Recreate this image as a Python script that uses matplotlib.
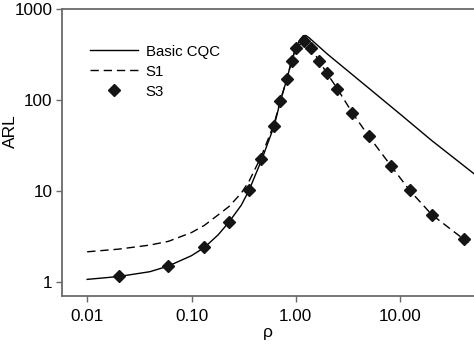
import matplotlib

matplotlib.use("Agg")
import matplotlib.pyplot as plt
from matplotlib.ticker import FixedLocator, NullLocator

plt.rcParams["font.family"] = ["Liberation Sans", "DejaVu Sans"]

# values
basic_rho = [0.01, 0.02, 0.04, 0.06, 0.1, 0.133, 0.18, 0.23, 0.3, 0.356, 0.47,
             0.62, 0.71, 0.82, 0.91, 1.0, 1.1, 1.18, 1.25, 1.35, 2.0, 5.0,
             10.0, 20.0, 51.0]
basic_arl = [1.07, 1.15, 1.3, 1.5, 1.95, 2.4, 3.3, 4.6, 7.0, 10.2, 22.0,
             52.0, 97.0, 170.0, 268.0, 373.0, 465.0, 510.0, 512.0, 480.0, 321.0,
             135.0, 70.0, 36.0, 15.5]

s1_rho = [0.01, 0.02, 0.04, 0.06, 0.1, 0.133, 0.2, 0.23, 0.3, 0.356, 0.47,
          0.62, 0.71, 0.82, 0.91, 1.0, 1.19, 1.4, 1.67, 1.97, 2.5, 3.47, 5.0,
          8.2, 12.3, 20.1, 40.9, 45.0]
s1_arl = [2.15, 2.3, 2.55, 2.8, 3.5, 4.2, 6.0, 6.8, 9.5, 12.8, 24.5,
          55.0, 98.0, 170.0, 268.0, 373.0, 442.0, 373.0, 268.0, 200.0, 133.0,
          72.7, 40.0, 18.8, 10.2, 5.5, 2.94, 2.7]

s3_rho = [0.02, 0.06, 0.133, 0.23, 0.356, 0.468, 0.618, 0.708, 0.82, 0.91,
          1.0, 1.19, 1.4, 1.67, 1.97, 2.5, 3.47, 5.0, 8.2, 12.3, 20.1, 40.9]
s3_arl = [1.16, 1.52, 2.4, 4.6, 10.2, 22.3, 52.3, 96.8, 170.0, 268.0,
          373.0, 442.0, 373.0, 268.0, 200.0, 133.0, 72.7, 39.9, 18.8, 10.2,
          5.5, 2.94]

x_ticks = [0.01, 0.1, 1.0, 10.0]
x_labels = ["0.01", "0.10", "1.00", "10.00"]
y_ticks = [1, 10, 100, 1000]
y_labels = ["1", "10", "100", "1000"]

fig = plt.figure(figsize=(4.74, 3.48), dpi=100)
ax = fig.add_axes([0.131, 0.149, 0.869, 0.825])

ax.plot(basic_rho, basic_arl, "-", color="black", lw=1.0, label="Basic CQC")
ax.plot(s1_rho, s1_arl, color="black", lw=1.0, dashes=(6, 3.5), label="S1")
ax.plot(s3_rho, s3_arl, "D", color="#151515", ms=6.0, ls="none", label="S3")

ax.set_xscale("log")
ax.set_yscale("log")
ax.set_xlim(0.00575, 51)
ax.set_ylim(0.70, 1000)

ax.xaxis.set_major_locator(FixedLocator(x_ticks))
ax.xaxis.set_minor_locator(NullLocator())
ax.set_xticklabels(x_labels)
ax.yaxis.set_major_locator(FixedLocator(y_ticks))
ax.yaxis.set_minor_locator(NullLocator())
ax.set_yticklabels(y_labels)

for side in ("left", "bottom", "top"):
    ax.spines[side].set_color("#6a6a6a")
    ax.spines[side].set_linewidth(1.3)
ax.spines["right"].set_visible(False)
ax.tick_params(axis="both", direction="out", length=4, width=1.0,
               color="#6a6a6a", labelsize=12.3, pad=3)
ax.tick_params(axis="x", pad=5)

ax.set_xlabel("ρ", fontsize=12.5, labelpad=1)
fig.text(10 / 474, 0.622, "ARL", rotation=90, ha="center", va="center",
         fontsize=12.5)

ax.legend(loc="upper left", bbox_to_anchor=(0.052, 0.897), frameon=False,
          fontsize=10.8, handlelength=3.2, handletextpad=0.55, labelspacing=0.4,
          borderaxespad=0)

fig.savefig("out.png", dpi=100)
